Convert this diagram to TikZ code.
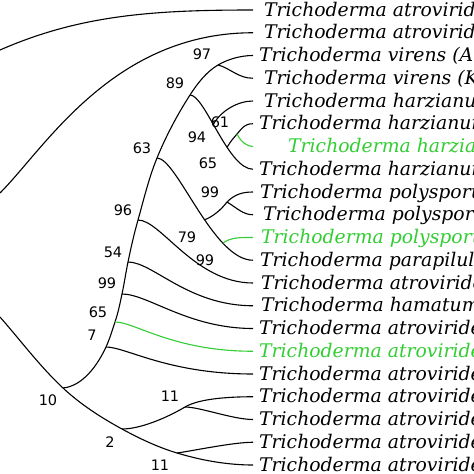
\documentclass[tikz,border=0pt]{standalone}
\usepackage{fontspec}
\setmainfont{DejaVu Serif}
\newfontfamily\numfont{DejaVu Sans}
\definecolor{leafgreen}{RGB}{50,205,50}
\begin{document}
\begin{tikzpicture}[x=1pt,y=-1pt,
  br/.style={line width=1.1pt, black},
  gbr/.style={line width=1.1pt, leafgreen},
  leaf/.style={anchor=base west, inner sep=0pt, font=\fontsize{18.8}{18.8}\selectfont\itshape},
  gleaf/.style={leaf, text=leafgreen},
  bs/.style={inner sep=0pt, font=\fontsize{14.5}{14.5}\selectfont\numfont}]
\useasboundingbox (0,0) rectangle (474,474);
\clip (0,0) rectangle (474,474);
% leaf ends
\foreach \i in {1,...,21} {\coordinate (e\i) at (253,{10+22.75*(\i-1)});}
% internal nodes
\coordinate (sA) at (0,50);
\coordinate (sB) at (0,193);
\coordinate (sK) at (0,317);
\coordinate (n10) at (63,388);
\coordinate (n7) at (106,347);
\coordinate (n65) at (115,322);
\coordinate (n99a) at (122,294);
\coordinate (n54) at (128,262);
\coordinate (n96) at (138,220);
\coordinate (n63) at (157,158);
\coordinate (n89) at (190,95);
\coordinate (n97) at (218,65);
\coordinate (n67) at (237,134);
\coordinate (n99c) at (227,202);
\coordinate (n2) at (122,429);
\coordinate (n11a) at (185,407);
\coordinate (n11b) at (177,453);
% top arcs
\draw[br] (sA) .. controls +(80,-35) and +(-100,0) .. (e1);
\draw[br] (sB) .. controls +(45,-45) and +(-140,0) .. (e2);
% spine
\draw[br] (n10) .. controls +(20,-2) and +(-8.2,17.8) .. (n7)
  .. controls +(3.7,-8.1) and +(-2.8,8.5) .. (n65)
  .. controls +(3.1,-9.2) and +(-2,9.5) .. (n99a)
  .. controls +(2.3,-10.7) and +(-2.2,10.7) .. (n54)
  .. controls +(2.9,-14.1) and +(-3.9,13.8) .. (n96)
  .. controls +(5.8,-20.7) and +(-8.2,20.1) .. (n63)
  .. controls +(9,-22) and +(-12.8,19.9) .. (n89)
  .. controls +(7.4,-11.5) and +(-11.6,6.8) .. (n97)
  .. controls +(10.3,-6) and +(-12,0) .. (e3);
\draw[br] (n97) .. controls +(12,3) and +(-15,0) .. (e4);
% harzianum clade
\draw[br] (n89) .. controls +(15,0) and +(-25,0) .. coordinate[pos=0.43] (n61) coordinate[pos=0.64] (n94) (e8);
\draw[br] (n61) .. controls +(8,-14) and +(-15,0) .. (e5);
\draw[br] (n94) .. controls +(5,-8) and +(-5,6) .. (n67);
\draw[br] (n67) .. controls +(6,-7) and +(-8,0) .. (e6);
\draw[gbr] (n67) .. controls +(4,8) and +(-6,0) .. (e7);
% polysporum clade
\draw[br] (n63) .. controls +(20,0) and +(-40,0) .. coordinate[pos=0.57] (nE1) coordinate[pos=0.74] (nE2) (e12);
\draw[br] (nE1) .. controls +(8,-3) and +(-6,8) .. (n99c);
\draw[br] (n99c) .. controls +(8,-8) and +(-10,0) .. (e9);
\draw[br] (n99c) .. controls +(10,6) and +(-10,0) .. (e10);
\draw[gbr] (nE2) .. controls +(8,-6) and +(-12,0) .. (e11);
% spine branches
\draw[br] (n96) .. controls +(23,0) and +(-58,0) .. (e13);
\draw[br] (n54) .. controls +(25,0) and +(-65,0) .. (e14);
\draw[br] (n99a) .. controls +(26,0) and +(-65,0) .. (e15);
\draw[gbr] (n65) .. controls +(20,0) and +(-80,0) .. (e16);
\draw[br] (n7) .. controls +(20,0) and +(-85,0) .. (e17);
% bottom
\draw[br] (sK) .. controls +(20.9,23.8) and +(-23.1,-21.6) .. (n10)
  .. controls +(17.5,16.3) and +(-21.1,-11.5) .. (n2)
  .. controls +(17.6,9.6) and +(-19.2,-5.8) .. (n11b)
  .. controls +(24.6,7.4) and +(-25.6,0) .. (e21);
\draw[br] (n2) .. controls +(20,0) and +(-15,9) .. (n11a);
\draw[br] (n11a) .. controls +(15,-9) and +(-20,0) .. (e18);
\draw[br] (n11a) .. controls +(15,0) and +(-20,0) .. (e19);
\draw[br] (n11b) .. controls +(15,-2) and +(-20,0) .. (e20);
% leaf labels
\node[leaf] (t1) at (264,16) {Trichoderma atroviride};
\node[leaf] (t2) at (264,38.75) {Trichoderma atroviride};
\node[leaf] (t3) at (259,61.5) {Trichoderma virens (Ar};
\node[leaf] (t4) at (264,84.25) {Trichoderma virens (K};
\node[leaf] (t5) at (264,107) {Trichoderma harzianum};
\node[leaf] (t6) at (259,129.75) {Trichoderma harzianum};
\node[gleaf] (t7) at (288,152.5) {Trichoderma harzianum};
\node[leaf] (t8) at (259,175.25) {Trichoderma harzianum};
\node[leaf] (t9) at (260,198) {Trichoderma polysporum};
\node[leaf] (t10) at (263,220.75) {Trichoderma polysporum};
\node[gleaf] (t11) at (261,243.5) {Trichoderma polysporum};
\node[leaf] (t12) at (260,266.25) {Trichoderma parapiluliferum};
\node[leaf] (t13) at (261,289) {Trichoderma atroviride};
\node[leaf] (t14) at (261,311.75) {Trichoderma hamatum};
\node[leaf] (t15) at (259,334.5) {Trichoderma atroviride};
\node[gleaf] (t16) at (259,357.25) {Trichoderma atroviride};
\node[leaf] (t17) at (259,380) {Trichoderma atroviride};
\node[leaf] (t18) at (259,402.75) {Trichoderma atroviride};
\node[leaf] (t19) at (259,425.5) {Trichoderma atroviride};
\node[leaf] (t20) at (259,448.25) {Trichoderma atroviride};
\node[leaf] (t21) at (259,471) {Trichoderma atroviride};
% bootstrap values
\node[bs] (b97) at (202,54) {97};
\node[bs] (b89) at (175,83) {89};
\node[bs] (b61) at (220,122) {61};
\node[bs] (b94) at (197,137) {94};
\node[bs] (b63) at (142,148) {63};
\node[bs] (b65a) at (208,163) {65};
\node[bs] (b99a) at (210,192) {99};
\node[bs] (b96) at (123,210) {96};
\node[bs] (b79) at (187,237) {79};
\node[bs] (b99b) at (205,260) {99};
\node[bs] (b54) at (113,252) {54};
\node[bs] (b99c) at (107,283) {99};
\node[bs] (b65b) at (98,312) {65};
\node[bs] (b7) at (92,335) {7};
\node[bs] (b10) at (48,400) {10};
\node[bs] (b2) at (110,442) {2};
\node[bs] (b11a) at (170,396) {11};
\node[bs] (b11b) at (160,465) {11};
\end{tikzpicture}
\end{document}
